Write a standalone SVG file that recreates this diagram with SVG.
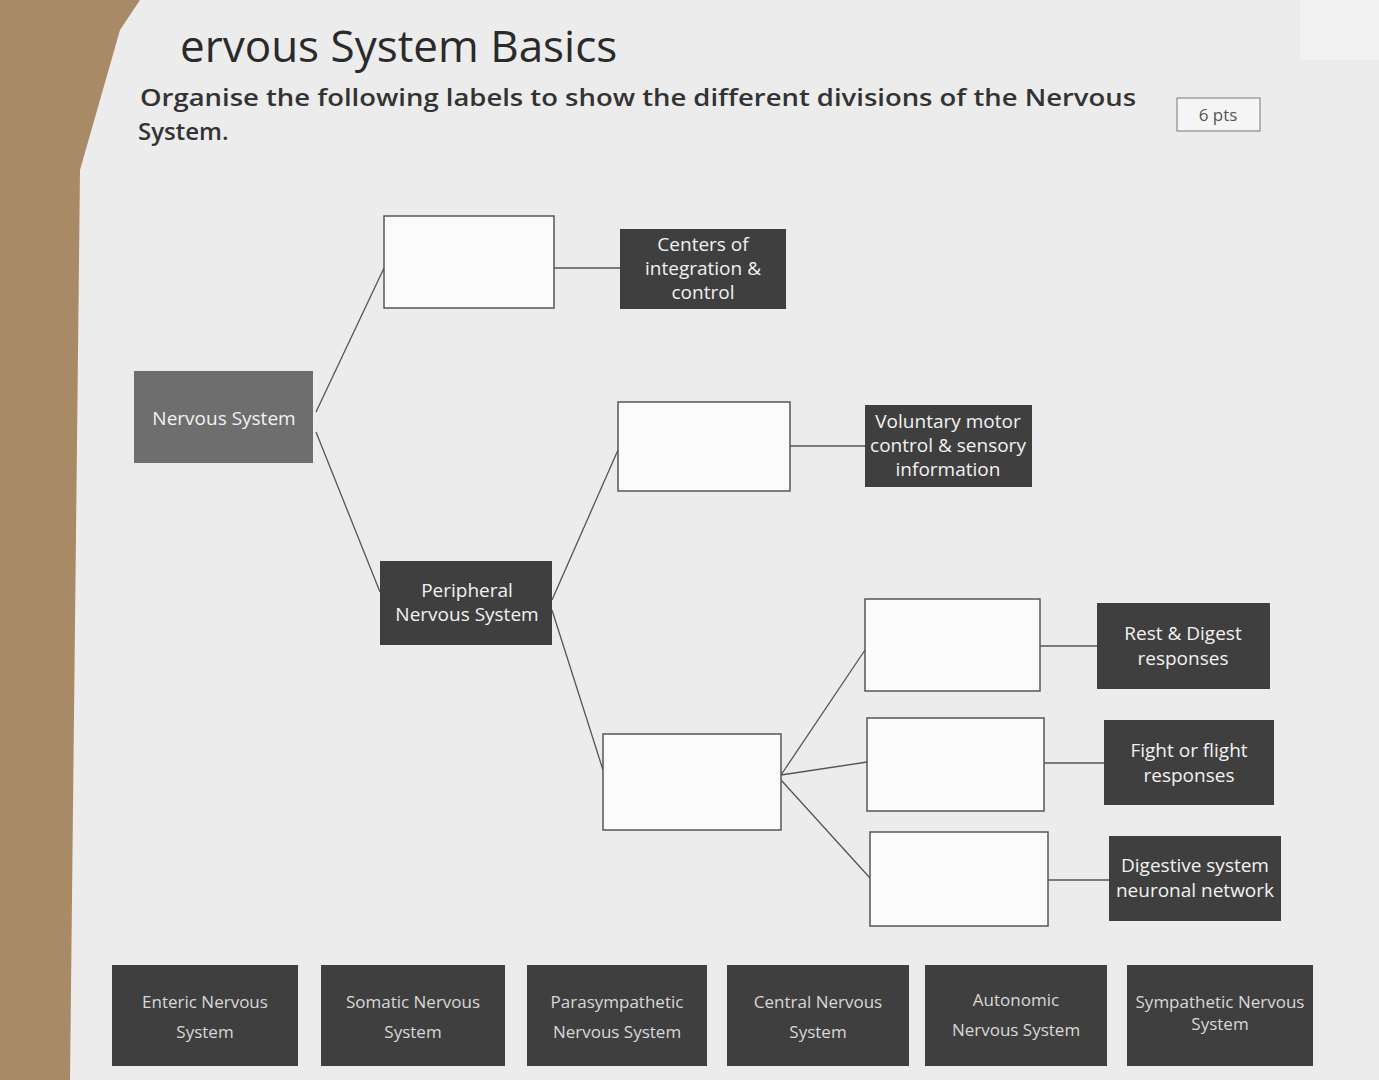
<svg xmlns="http://www.w3.org/2000/svg" width="1379" height="1080" viewBox="0 0 1379 1080">
<style>
.empty{fill:#fbfbfb;stroke:#555;stroke-width:1.5}
.dark{fill:#3f3f3f}
.grey{fill:#6e6e6e}
.lbl{font-family:"Open Sans","Liberation Sans",sans-serif;font-size:19px;fill:#f2f2f2;text-anchor:middle}
.bot{font-family:"Open Sans","Liberation Sans",sans-serif;font-size:17px;fill:#d8d8d8;text-anchor:middle}
.con{stroke:#555;stroke-width:1.3;fill:none}
</style>
<rect width="1379" height="1080" fill="#a88a66"/>
<polygon points="140,0 1379,0 1379,1080 70,1080 80,170 120,30" fill="#ececec"/>
<rect x="1300" y="0" width="79" height="60" fill="#f2f2f2"/>
<text x="180" y="62" font-family="Open Sans,Liberation Sans,sans-serif" font-size="44" fill="#2a2a2a">ervous System Basics</text>
<text x="140" y="106" font-family="Open Sans,Liberation Sans,sans-serif" font-size="24" font-weight="600" fill="#333" textLength="996" lengthAdjust="spacingAndGlyphs">Organise the following labels to show the different divisions of the Nervous</text>
<text x="138" y="140" font-family="Open Sans,Liberation Sans,sans-serif" font-size="24" font-weight="600" fill="#333">System.</text>
<rect x="1177" y="98" width="83" height="33" fill="#f5f5f5" stroke="#777"/>
<text x="1218" y="121" font-family="Open Sans,Liberation Sans,sans-serif" font-size="17" fill="#555" text-anchor="middle">6 pts</text>
<g id="connectors">
<line class="con" x1="554" y1="268" x2="620" y2="268"/>
<line class="con" x1="316" y1="412" x2="384" y2="268"/>
<line class="con" x1="316" y1="432" x2="380" y2="592"/>
<line class="con" x1="552" y1="600" x2="618" y2="450"/>
<line class="con" x1="552" y1="610" x2="603" y2="770"/>
<line class="con" x1="790" y1="446" x2="865" y2="446"/>
<line class="con" x1="781" y1="775" x2="865" y2="650"/>
<line class="con" x1="781" y1="775" x2="867" y2="762"/>
<line class="con" x1="781" y1="780" x2="870" y2="878"/>
<line class="con" x1="1040" y1="646" x2="1097" y2="646"/>
<line class="con" x1="1044" y1="763" x2="1104" y2="763"/>
<line class="con" x1="1048" y1="880" x2="1109" y2="880"/>
</g>
<g id="e1"><rect class="empty" x="384" y="216" width="170" height="92"/></g>
<g id="centers"><rect class="dark" x="620" y="229" width="166" height="80"/><text class="lbl" x="703" y="251">Centers of</text><text class="lbl" x="703" y="275">integration &amp;</text><text class="lbl" x="703" y="299">control</text></g>
<g id="ns"><rect class="grey" x="134" y="371" width="179" height="92"/><text class="lbl" x="224" y="425">Nervous System</text></g>
<g id="e2"><rect class="empty" x="618" y="402" width="172" height="89"/></g>
<g id="voluntary"><rect class="dark" x="865" y="405" width="167" height="82"/><text class="lbl" x="948" y="428">Voluntary motor</text><text class="lbl" x="948" y="452">control &amp; sensory</text><text class="lbl" x="948" y="476">information</text></g>
<g id="pns"><rect class="dark" x="380" y="561" width="172" height="84"/><text class="lbl" x="467" y="597" font-size="22">Peripheral</text><text class="lbl" x="467" y="621" font-size="22">Nervous System</text></g>
<g id="e3"><rect class="empty" x="603" y="734" width="178" height="96"/></g>
<g id="e4"><rect class="empty" x="865" y="599" width="175" height="92"/></g>
<g id="rest"><rect class="dark" x="1097" y="603" width="173" height="86"/><text class="lbl" x="1183" y="640">Rest &amp; Digest</text><text class="lbl" x="1183" y="665">responses</text></g>
<g id="e5"><rect class="empty" x="867" y="718" width="177" height="93"/></g>
<g id="fight"><rect class="dark" x="1104" y="720" width="170" height="85"/><text class="lbl" x="1189" y="757">Fight or flight</text><text class="lbl" x="1189" y="782">responses</text></g>
<g id="e6"><rect class="empty" x="870" y="832" width="178" height="94"/></g>
<g id="digestive"><rect class="dark" x="1109" y="836" width="172" height="85"/><text class="lbl" x="1195" y="872">Digestive system</text><text class="lbl" x="1195" y="897">neuronal network</text></g>
<g id="b1"><rect class="dark" x="112" y="965" width="186" height="101"/><text class="bot" x="205" y="1008">Enteric Nervous</text><text class="bot" x="205" y="1038">System</text></g>
<g id="b2"><rect class="dark" x="321" y="965" width="184" height="101"/><text class="bot" x="413" y="1008">Somatic Nervous</text><text class="bot" x="413" y="1038">System</text></g>
<g id="b3"><rect class="dark" x="527" y="965" width="180" height="101"/><text class="bot" x="617" y="1008">Parasympathetic</text><text class="bot" x="617" y="1038">Nervous System</text></g>
<g id="b4"><rect class="dark" x="727" y="965" width="182" height="101"/><text class="bot" x="818" y="1008">Central Nervous</text><text class="bot" x="818" y="1038">System</text></g>
<g id="b5"><rect class="dark" x="925" y="965" width="182" height="101"/><text class="bot" x="1016" y="1006">Autonomic</text><text class="bot" x="1016" y="1036">Nervous System</text></g>
<g id="b6"><rect class="dark" x="1127" y="965" width="186" height="101"/><text class="bot" x="1220" y="1008" font-size="13">Sympathetic Nervous</text><text class="bot" x="1220" y="1030" font-size="13">System</text></g>
</svg>
